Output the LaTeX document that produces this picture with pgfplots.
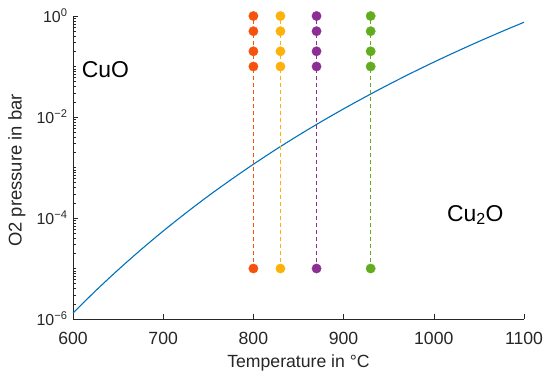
\documentclass[border=0pt]{standalone}
\usepackage{fontspec}
\setmainfont{Liberation Sans}
\usepackage{pgfplots}
\pgfplotsset{compat=1.18}
\definecolor{mblue}{rgb}{0,0.447,0.741}
\definecolor{morange}{rgb}{0.97,0.32,0.05}
\definecolor{myellow}{rgb}{0.99,0.70,0.04}
\definecolor{mpurple}{rgb}{0.55,0.18,0.58}
\definecolor{mgreen}{rgb}{0.38,0.68,0.12}
\definecolor{axgray}{gray}{0.15}
\begin{document}
\begin{tikzpicture}
\begin{axis}[
  scale only axis,
  width=451bp, height=303bp,
  xmin=600, xmax=1100,
  ymode=log, ymin=1e-6, ymax=1,
  axis x line*=bottom, axis y line*=left,
  axis line style={axgray, line width=0.6bp},
  tick align=inside,
  tick style={axgray, line width=0.6bp},
  major tick length=5bp, minor tick length=3bp,
  xtick={600,700,800,900,1000,1100},
  minor xtick={},
  ytick={1e-6,1e-4,1e-2,1},
  minor ytick={2e-6,3e-6,4e-6,5e-6,6e-6,7e-6,8e-6,9e-6,1e-5,2e-5,3e-5,4e-5,5e-5,6e-5,7e-5,8e-5,9e-5,
    2e-4,3e-4,4e-4,5e-4,6e-4,7e-4,8e-4,9e-4,1e-3,2e-3,3e-3,4e-3,5e-3,6e-3,7e-3,8e-3,9e-3,
    2e-2,3e-2,4e-2,5e-2,6e-2,7e-2,8e-2,9e-2,1e-1,2e-1,3e-1,4e-1,5e-1,6e-1,7e-1,8e-1,9e-1},
  yticklabels={10\textsuperscript{−6},10\textsuperscript{−4},10\textsuperscript{−2},10\textsuperscript{0}},
  /pgf/number format/assume math mode=true,
  /pgf/number format/1000 sep={},
  xticklabel style={font=\fontsize{17.7}{20}\selectfont, text=axgray, yshift=-10bp},
  yticklabel style={font=\fontsize{16}{19}\selectfont, text=axgray, xshift=-2bp},
  xlabel={Temperature in °C},
  ylabel={O2 pressure in bar},
  xlabel style={font=\fontsize{17.7}{20}\selectfont, text=axgray, at={(axis description cs:0.5,-0.1452)}, anchor=center},
  ylabel style={font=\fontsize{18.5}{21}\selectfont, text=axgray, at={(axis description cs:-0.1242,0.49)}, anchor=center},
  clip=false,
]
\addplot[mblue, line width=1.1bp, smooth] coordinates {
(600,1.31e-6)(625,3.61e-6)(650,9.4e-6)(675,2.33e-5)(700,5.52e-5)(725,1.25e-4)
(750,2.73e-4)(775,5.71e-4)(800,1.16e-3)(825,2.28e-3)(850,4.34e-3)(875,8.04e-3)
(900,1.45e-2)(925,2.55e-2)(950,4.40e-2)(975,7.40e-2)(1000,0.122)(1025,0.197)
(1050,0.313)(1075,0.489)(1100,0.752)};
\addplot[morange, line width=0.8bp, dash pattern=on 4bp off 3bp, mark=*, mark size=4.7bp, mark options={solid, line width=0.3bp}] coordinates {(800,1e-5)(800,0.1)(800,0.2)(800,0.5)(800,1)};
\addplot[myellow, line width=0.8bp, dash pattern=on 4bp off 3bp, mark=*, mark size=4.7bp, mark options={solid, line width=0.3bp}] coordinates {(830,1e-5)(830,0.1)(830,0.2)(830,0.5)(830,1)};
\addplot[mpurple, line width=0.8bp, dash pattern=on 4bp off 3bp, mark=*, mark size=4.7bp, mark options={solid, line width=0.3bp}] coordinates {(870,1e-5)(870,0.1)(870,0.2)(870,0.5)(870,1)};
\addplot[mgreen, line width=0.8bp, dash pattern=on 4bp off 3bp, mark=*, mark size=4.7bp, mark options={solid, line width=0.3bp}] coordinates {(930,1e-5)(930,0.1)(930,0.2)(930,0.5)(930,1)};
\node[font=\fontsize{23}{26}\selectfont, text=black] at (axis cs:636,0.085) {CuO};
\node[font=\fontsize{23}{26}\selectfont, text=black] at (axis cs:1046,1.15e-4) {Cu\textsubscript{2}O};
\end{axis}
\pgfresetboundingbox
\path[use as bounding box] ([shift={(-73bp,-61bp)}]current axis.south west) rectangle ([shift={(26bp,16bp)}]current axis.north east);
\end{tikzpicture}
\end{document}
